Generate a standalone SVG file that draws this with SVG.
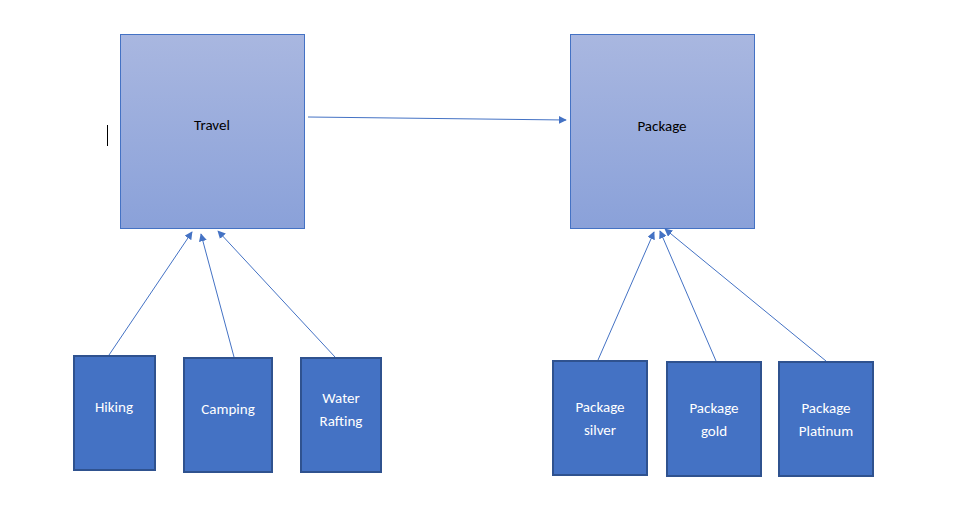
<svg xmlns="http://www.w3.org/2000/svg" width="956" height="521" viewBox="0 0 956 521">
<style>
.big{stroke:#4472c4;stroke-width:1}
.small{fill:#4472c4;stroke:#2f528f;stroke-width:2}
text{font-family:Calibri,"Liberation Sans",sans-serif;font-size:15px;text-anchor:middle}
.w{fill:#fff}
.c{stroke:#4472c4;stroke-width:1;fill:none;marker-end:url(#a)}
</style>
<defs>
<linearGradient id="g" x1="0" y1="0" x2="0" y2="1"><stop offset="0" stop-color="#a9b7e0"/><stop offset="1" stop-color="#8aa1d9"/></linearGradient>
<marker id="a" viewBox="0 0 10 10" refX="9" refY="5" markerWidth="8" markerHeight="8" orient="auto-start-reverse" markerUnits="userSpaceOnUse"><path d="M0,0L10,5L0,10z" fill="#4472c4"/></marker>
</defs>
<rect width="956" height="521" fill="#fff"/>
<line x1="107.5" y1="125" x2="107.5" y2="146" stroke="#000"/>
<g id="travel"><rect class="big" x="120.5" y="34.5" width="184" height="194" fill="url(#g)"/><text x="212" y="130">Travel</text></g>
<g id="package"><rect class="big" x="570.5" y="34.5" width="184" height="194" fill="url(#g)"/><text x="662" y="131">Package</text></g>
<g id="hiking"><rect class="small" x="74" y="356" width="81" height="114"/><text class="w" x="114" y="412">Hiking</text></g>
<g id="camping"><rect class="small" x="184" y="358" width="88" height="114"/><text class="w" x="228" y="414">Camping</text></g>
<g id="water"><rect class="small" x="301" y="358" width="80" height="114"/><text class="w" x="341" y="403">Water</text><text class="w" x="341" y="426">Rafting</text></g>
<g id="silver"><rect class="small" x="553" y="361" width="94" height="114"/><text class="w" x="600" y="412">Package</text><text class="w" x="600" y="435">silver</text></g>
<g id="gold"><rect class="small" x="667" y="362" width="94" height="114"/><text class="w" x="714" y="413">Package</text><text class="w" x="714" y="436">gold</text></g>
<g id="platinum"><rect class="small" x="779" y="362" width="94" height="114"/><text class="w" x="826" y="413">Package</text><text class="w" x="826" y="436">Platinum</text></g>
<g id="connectors">
<line class="c" x1="308" y1="117" x2="566" y2="120"/>
<line class="c" x1="109" y1="355" x2="192" y2="232"/>
<line class="c" x1="234" y1="357" x2="201" y2="234"/>
<line class="c" x1="335" y1="357" x2="218" y2="231"/>
<line class="c" x1="598" y1="360" x2="654" y2="232"/>
<line class="c" x1="716" y1="361" x2="660" y2="231"/>
<line class="c" x1="826" y1="361" x2="665" y2="229"/>
</g>
</svg>
